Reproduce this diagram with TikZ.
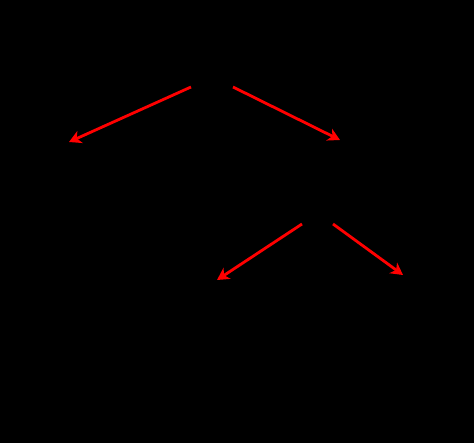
\documentclass[tikz,border=0pt]{standalone}
\usetikzlibrary{arrows.meta}
\begin{document}
\begin{tikzpicture}[x=1pt,y=-1pt,
  edge/.style={draw=red, line width=2.8pt, -{Stealth[length=12pt,width=13pt,inset=3.5pt]}},
  hidden/.style={inner sep=0pt, minimum size=0pt}]
\fill[black] (0,0) rectangle (474,443);
\useasboundingbox (0,0) rectangle (474,443);
% invisible nodes (text not visible in the reference)
\node[hidden] (root) at (212,75) {};
\node[hidden] (l) at (62,150) {};
\node[hidden] (r) at (320,180) {};
\node[hidden] (rl) at (212,290) {};
\node[hidden] (rr) at (410,285) {};
% connector end points
\coordinate (rootL) at (191,87);
\coordinate (rootR) at (233,87);
\coordinate (lT) at (69,142);
\coordinate (rT) at (340,140);
\coordinate (rBL) at (302,224);
\coordinate (rBR) at (333,224);
\coordinate (rlT) at (217,280);
\coordinate (rrT) at (403,275);
\draw[edge] (rootL) -- (lT);
\draw[edge] (rootR) -- (rT);
\draw[edge] (rBL) -- (rlT);
\draw[edge] (rBR) -- (rrT);
\end{tikzpicture}
\end{document}
